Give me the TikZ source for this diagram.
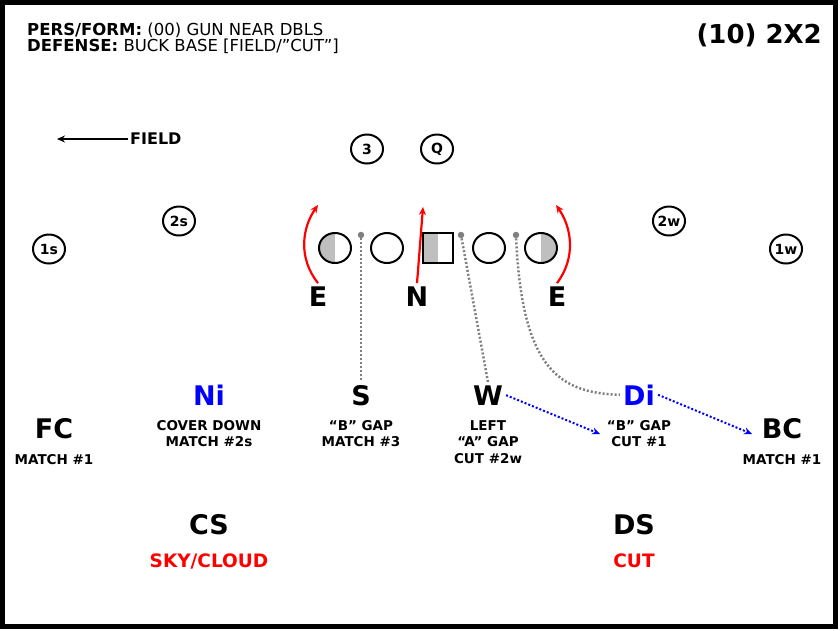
\documentclass[tikz,border=0pt]{standalone}
\usepackage{fontspec}
\setmainfont{DejaVu Sans}
\usetikzlibrary{shapes.geometric,arrows.meta}
\begin{document}
\begin{tikzpicture}[x=1pt,y=-1pt,
  every node/.style={inner sep=0pt},
  rcv/.style={draw,line width=2pt,ellipse,minimum width=32pt,minimum height=29pt,inner sep=0pt,font=\bfseries\fontsize{14}{14}\selectfont},
  ol/.style={draw,line width=2pt,ellipse,minimum width=32pt,minimum height=30pt},
  ctr/.style={draw,line width=2pt,rectangle,minimum size=30pt},
  halfL/.style={path picture={\fill[black!25] (path picture bounding box.south west) rectangle (path picture bounding box.north);}},
  halfR/.style={path picture={\fill[black!25] (path picture bounding box.south) rectangle (path picture bounding box.north east);}},
  big/.style={font=\bfseries\fontsize{27}{27}\selectfont,inner sep=3pt,anchor=base},
  small/.style={font=\bfseries\fontsize{13.5}{16.5}\selectfont,align=center,anchor=north},
  gdot/.style={circle,fill=black!50,minimum size=6.5pt},
  gline/.style={draw=black!50,line width=2.5pt,dash pattern=on 2pt off 2pt},
  bline/.style={draw=blue,line width=2pt,dash pattern=on 2pt off 2pt,-{Stealth[length=8pt,width=7pt]}},
  rline/.style={draw=red,line width=2.2pt,-{Stealth[length=8pt,width=7pt]}},
]
\useasboundingbox (0,0) rectangle (840,630);
\draw[line width=5pt] (2.5,2.5) rectangle (835.5,626.5);

% header
\node[anchor=base west,font=\fontsize{16.5}{18}\selectfont] (h1) at (27,35.5) {\textbf{PERS/FORM:} (00) GUN NEAR DBLS};
\node[anchor=base west,font=\fontsize{16.5}{18}\selectfont] (h2) at (27,51.5) {\textbf{DEFENSE:} BUCK BASE [FIELD/”CUT”]};
\node[anchor=base east,font=\bfseries\fontsize{26}{26}\selectfont] (title) at (822,43) {(10) 2X2};

% field arrow
\node[anchor=west,inner sep=2pt,font=\bfseries\fontsize{16}{16}\selectfont] (field) at (128,139) {FIELD};
\coordinate (fieldTip) at (57,139);
\draw[line width=1.5pt,-{Stealth[length=8pt,width=7pt]}] (field.west) -- (fieldTip);

% receivers
\node[rcv] (r1s) at (49,249) {1s};
\node[rcv] (r2s) at (179,221) {2s};
\node[rcv] (r3) at (367,149) {3};
\node[rcv] (rq) at (437,149) {Q};
\node[rcv] (r2w) at (669,221) {2w};
\node[rcv] (r1w) at (786,249) {1w};

% offensive line
\node[ol,halfL] (lt) at (335,248) {};
\node[ol] (lg) at (387,248) {};
\node[ctr,halfL] (c) at (438,248) {};
\node[ol] (rg) at (489,248) {};
\node[ol,halfR] (rt) at (541,248) {};

% gap dots
\node[gdot] (d1) at (361,235) {};
\node[gdot] (d2) at (461,235) {};
\node[gdot] (d3) at (516,235) {};

% D-line
\node[big] (El) at (318,306) {E};
\node[big] (N) at (417,306) {N};
\node[big] (Er) at (557,306) {E};

% second level
\node[big,text=blue] (Ni) at (209,405) {Ni};
\node[big] (S) at (361,405) {S};
\node[big] (W) at (488,405) {W};
\node[big,text=blue] (Di) at (639,405) {Di};
\node[big] (FC) at (54,438) {FC};
\node[big] (BC) at (782,438) {BC};
\node[big] (CS) at (209,534) {CS};
\node[big] (DS) at (634,534) {DS};

% assignments
\node[small] (niT) at (209,420) {COVER DOWN\\MATCH \#2s};
\node[small] (sT) at (361,420) {“B” GAP\\MATCH \#3};
\node[small] (wT) at (488,420) {LEFT\\“A” GAP\\CUT \#2w};
\node[small] (diT) at (639,420) {“B” GAP\\CUT \#1};
\node[small] (fcT) at (54,454) {MATCH \#1};
\node[small] (bcT) at (782,454) {MATCH \#1};
\node[anchor=base,text=red,font=\bfseries\fontsize{18.5}{18.5}\selectfont] (csT) at (209,567) {SKY/CLOUD};
\node[anchor=base,text=red,font=\bfseries\fontsize{18.5}{18.5}\selectfont] (dsT) at (634,567) {CUT};

% red rush arrows
\coordinate (elTip) at (318,205);
\coordinate (nTip) at (423,207);
\coordinate (erTip) at (556,205);
\draw[rline] (El.north) .. controls (298,258) and (302,228) .. (elTip);
\draw[rline] (N.north) -- (nTip);
\draw[rline] (Er.north) .. controls (576,258) and (572,228) .. (erTip);

% gray dotted
\draw[gline] (d1) -- (S.north);
\draw[gline] (d2) -- (W.north);
\draw[gline] (d3) .. controls (522,370) and (560,393) .. (Di.west);

% blue dotted arrows
\coordinate (wEnd) at (600,434);
\coordinate (dEnd) at (752,434);
\draw[bline] (W.east) -- (wEnd);
\draw[bline] (Di.east) -- (dEnd);
\end{tikzpicture}
\end{document}
